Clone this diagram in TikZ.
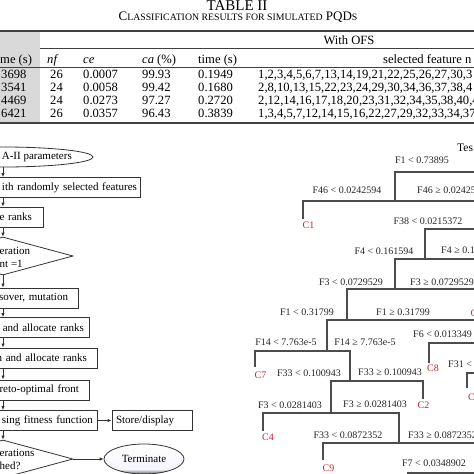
\documentclass[tikz,border=0pt]{standalone}
\usepackage{fontspec}
\setmainfont{Liberation Serif}
\usetikzlibrary{arrows.meta,shapes.geometric}
\definecolor{leafred}{RGB}{200,35,45}
\newcommand{\tabfont}{\fontsize{12.6}{14}\selectfont}
\newcommand{\flowfont}{\fontsize{11}{13}\selectfont}
\newcommand{\treefont}{\fontsize{10}{12}\selectfont}
\pgfdeclareverticalshading{termshade}{100bp}{color(0bp)=(black!65); color(25bp)=(black!65); color(28bp)=(black!40); color(33bp)=(blue!4); color(75bp)=(white); color(100bp)=(white)}

\begin{document}
\begin{tikzpicture}[x=1pt,y=-1pt,
    hrule/.style={black!75,line width=1.4pt},
    lrule/.style={black!75,line width=0.6pt},
    cell/.style={anchor=base west,inner sep=0pt,font=\tabfont},
    procbox/.style={draw=black!80,line width=0.8pt,minimum height=20pt,inner ysep=0pt,align=right,font=\flowfont},
    decision/.style={diamond,draw=black!80,line width=0.8pt,minimum width=140pt,minimum height=38pt,inner sep=0pt},
    flowtxt/.style={inner sep=0pt,font=\flowfont},
    flow/.style={draw=black!80,line width=0.8pt,-{Latex[length=4pt,width=3.5pt]}},
    branch/.style={black!70,line width=1.1pt},
    cond/.style={inner sep=0pt,font=\treefont,text=black!85},
    leaf/.style={inner sep=0pt,font=\treefont,text=leafred}]
        \useasboundingbox (0,0) rectangle (474,474);
        \clip (0,0) rectangle (474,474);

        \node[inner sep=0pt,font=\fontsize{15}{17}\selectfont] (ttl) at (237,6) {TABLE II};
        \node[inner sep=0pt,font=\fontsize{13}{15}\selectfont] (sub) at (238,17.5) {C{\fontsize{9.8}{12}\selectfont LASSIFICATION RESULTS FOR SIMULATED} PQD{\fontsize{9.8}{12}\selectfont S}};

        \fill[black!15] (0,31) rectangle (40,123);
        \draw[hrule] (0,31) -- (474,31);
        \node[cell,anchor=base] (ofs) at (349,44) {With OFS};
        \draw[lrule] (40,48.5) -- (474,48.5);
        \node[cell] (h1) at (0,63.5) {me (s)};
        \node[cell] (h2) at (47,63.5) {\textit{nf}};
        \node[cell] (h3) at (83,63.5) {\textit{ce}};
        \node[cell] (h4) at (142,63.5) {\textit{ca} (\%)};
        \node[cell] (h5) at (198,63.5) {time (s)};
        \node[cell] (h6) at (383,63.5) {selected feature n};
        \draw[lrule] (0,67) -- (474,67);

        \node[cell] (a1) at (1,78) {3698};
        \node[cell] (a2) at (50,78) {26};
        \node[cell] (a3) at (83,78) {0.0007};
        \node[cell] (a4) at (142,78) {99.93};
        \node[cell] (a5) at (198,78) {0.1949};
        \node[cell] (a6) at (258,78) {1,2,3,4,5,6,7,13,14,19,21,22,25,26,27,30,3};
        \node[cell] (b1) at (1,91) {3541};
        \node[cell] (b2) at (50,91) {24};
        \node[cell] (b3) at (83,91) {0.0058};
        \node[cell] (b4) at (142,91) {99.42};
        \node[cell] (b5) at (198,91) {0.1680};
        \node[cell] (b6) at (258,91) {2,8,10,13,15,22,23,24,29,30,34,36,37,38,4};
        \node[cell] (c1) at (1,104) {4469};
        \node[cell] (c2) at (50,104) {24};
        \node[cell] (c3) at (83,104) {0.0273};
        \node[cell] (c4) at (142,104) {97.27};
        \node[cell] (c5) at (198,104) {0.2720};
        \node[cell] (c6) at (258,104) {2,12,14,16,17,18,20,23,31,32,34,35,38,40,4};
        \node[cell] (d1) at (1,117) {6421};
        \node[cell] (d2) at (50,117) {26};
        \node[cell] (d3) at (83,117) {0.0357};
        \node[cell] (d4) at (142,117) {96.43};
        \node[cell] (d5) at (198,117) {0.3839};
        \node[cell] (d6) at (258,117) {1,3,4,5,7,12,14,15,16,22,27,29,32,33,34,37};
        \draw[hrule] (0,123) -- (474,123);

        \node[ellipse,draw=black!80,line width=0.8pt,minimum width=180pt,minimum height=20pt,inner sep=0pt] (init) at (3,157) {};
        \node[flowtxt,anchor=east] (initt) at (72,157) {A-II parameters};
        \node[procbox,text width=268pt,inner xsep=3pt] (pop) at (3,187.5) {ith randomly selected features};
        \node[procbox,text width=58pt,inner xsep=11pt] (rank) at (3,217) {e ranks};
        \node[decision] (iter) at (3,256) {};
        \node[flowtxt,anchor=west,align=left] (itert) at (-0.5,257) {eration\\nt =1};
        \node[procbox,text width=130pt,inner xsep=10pt] (cross) at (3,298) {sover, mutation};
        \node[procbox,text width=162pt,inner xsep=5pt] (eval) at (3,327.5) {and allocate ranks};
        \node[procbox,text width=168pt,inner xsep=10pt] (merge) at (3,358) {n and allocate ranks};
        \node[procbox,text width=152pt,inner xsep=10pt] (front) at (3,390) {reto-optimal front};
        \node[procbox,text width=180pt,inner xsep=4pt] (fit) at (3,420.5) {sing fitness function};
        \node[procbox,text width=72pt,inner xsep=4pt,align=left] (store) at (152,420.5) {Store/display};
        \node[decision] (stop) at (3,459) {};
        \node[flowtxt,anchor=west,align=left] (stopt) at (-0.5,459) {erations\\hed?};
        \node[ellipse,draw=black!80,line width=0.8pt,minimum width=80pt,minimum height=30pt,inner sep=0pt,font=\flowfont,
            shading=termshade] (term) at (144,459) {Terminate};

        \draw[flow] (init) -- (pop);
        \draw[flow] (pop) -- (rank);
        \draw[flow] (rank) -- (iter);
        \draw[flow] (iter) -- (cross);
        \draw[flow] (cross) -- (eval);
        \draw[flow] (eval) -- (merge);
        \draw[flow] (merge) -- (front);
        \draw[flow] (front) -- (fit);
        \draw[flow] (fit) -- (stop);
        \draw[flow] (fit) -- (store);
        \draw[flow] (stop) -- (term);

        \node[anchor=west,inner sep=0pt,font=\fontsize{11.5}{13}\selectfont] (ttree) at (457,148) {Tes};

        \coordinate (n0) at (500,172);
        \coordinate (n1) at (395,201);
        \coordinate (e1) at (303,219);
        \coordinate (n2) at (500,229);
        \coordinate (n3) at (425,259);
        \coordinate (m3) at (520,290);
        \coordinate (n4) at (395,289);
        \coordinate (m4) at (520,330);
        \coordinate (n5) at (347,320);
        \coordinate (n12) at (500,343);
        \coordinate (e8) at (429,363);
        \coordinate (n13) at (510,373);
        \coordinate (e6) at (467,388);
        \coordinate (n6) at (327,351);
        \coordinate (e7) at (255,367);
        \coordinate (n7) at (350,381);
        \coordinate (e2) at (423,399);
        \coordinate (n8) at (331,413);
        \coordinate (e4) at (263,431);
        \coordinate (n9) at (399,443);
        \coordinate (e9) at (323,460);
        \coordinate (n10) at (500,473);
        \coordinate (n11) at (408,500);

        \draw[branch] (n1) |- (n0);
        \draw[branch] (e1) |- (n1) -| (n2);
        \draw[branch] (n3) |- (n2);
        \draw[branch] (n4) |- (n3) -| (m3);
        \draw[branch] (n5) |- (n4) -| (m4);
        \draw[branch] (n6) |- (n5) -| (n12);
        \draw[branch] (e8) |- (n12) -| (n13);
        \draw[branch] (e6) |- (n13);
        \draw[branch] (e7) |- (n6) -| (n7);
        \draw[branch] (n8) |- (n7) -| (e2);
        \draw[branch] (e4) |- (n8) -| (n9);
        \draw[branch] (e9) |- (n9) -| (n10);
        \draw[branch] (n11) |- (n10);

        \node[cond] (l1) at (422,160) {F1 < 0.73895};
        \node[cond] (l2) at (347,190) {F46 < 0.0242594};
        \node[cond,anchor=west] (l3) at (417,190) {F46 ≥ 0.0242594};
        \node[cond] (l4) at (428,221) {F38 < 0.0215372};
        \node[cond] (l5) at (384,251) {F4 < 0.161594};
        \node[cond,anchor=west] (l6) at (441,250) {F4 ≥ 0.161594};
        \node[cond] (l7) at (351,282) {F3 < 0.0729529};
        \node[cond,anchor=west] (l8) at (410,282) {F3 ≥ 0.0729529};
        \node[cond] (l9) at (307,312) {F1 < 0.31799};
        \node[cond] (l10) at (403,312) {F1 ≥ 0.31799};
        \node[cond,anchor=west] (l11) at (413,334) {F6 < 0.013349};
        \node[cond] (l12) at (286,342) {F14 < 7.763e-5};
        \node[cond] (l13) at (365,342) {F14 ≥ 7.763e-5};
        \node[cond,anchor=west] (l14) at (448,364) {F31 <};
        \node[cond] (l15) at (309,373) {F33 < 0.100943};
        \node[cond] (l16) at (390,372) {F33 ≥ 0.100943};
        \node[cond] (l17) at (290,405) {F3 < 0.0281403};
        \node[cond] (l18) at (375,404) {F3 ≥ 0.0281403};
        \node[cond] (l19) at (348,435) {F33 < 0.0872352};
        \node[cond,anchor=west] (l20) at (408,435) {F33 ≥ 0.0872352};
        \node[cond] (l21) at (434,463) {F7 < 0.0348902};

        \node[leaf] (C1) at (308.5,225) {C1};
        \node[leaf] (C7) at (260.5,375) {C7};
        \node[leaf] (C2) at (423.5,405) {C2};
        \node[leaf] (C4) at (268,437) {C4};
        \node[leaf] (C9) at (328.5,468) {C9};
        \node[leaf] (C8) at (433,368) {C8};
        \node[leaf,anchor=west] (lfa) at (468,397) {C};
        \node[leaf,anchor=west] (lfb) at (470.5,313) {C};
    \end{tikzpicture}
\end{document}
